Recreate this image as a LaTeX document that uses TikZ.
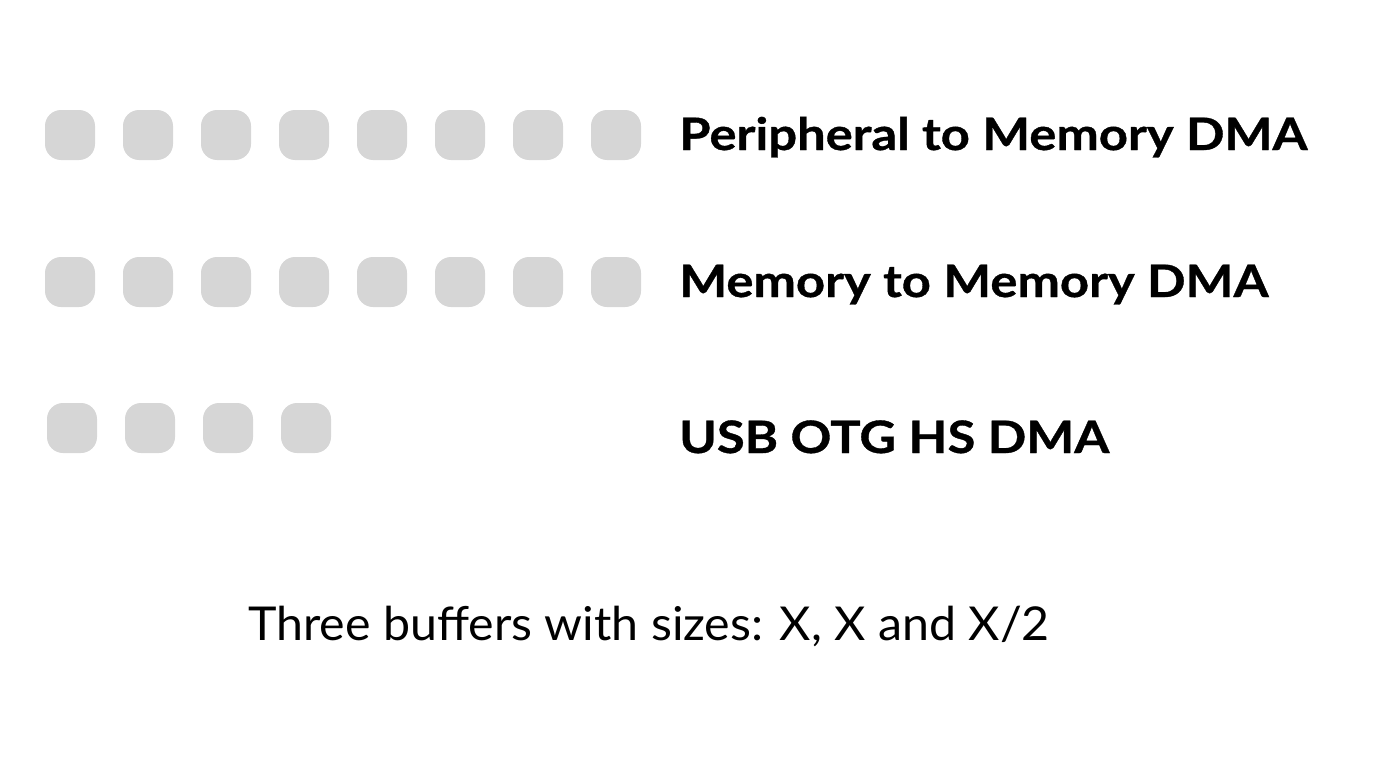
\documentclass[tikz,border=0pt]{standalone}
\usepackage{fontspec}
\setmainfont[FakeStretch=1.035]{Lato}
\newfontfamily\labelfont[FakeStretch=1.135,BoldFeatures={FakeBold=0.8}]{Lato}
\definecolor{cellgray}{HTML}{D6D6D6}
\begin{document}
\begin{tikzpicture}[x=0.75pt,y=-0.75pt,
  cell/.style={fill=cellgray,draw=none,rounded corners=12pt,minimum width=37.5pt,minimum height=37.5pt,inner sep=0pt},
  dmalabel/.style={anchor=base west,inner sep=0pt,font=\labelfont\bfseries\fontsize{33.5pt}{36pt}\selectfont},
  caption/.style={anchor=base west,inner sep=0pt,font=\fontsize{35pt}{40pt}\selectfont}]
\useasboundingbox (0,0) rectangle (1386,778);
\foreach \i in {0,...,7} {
  \node[cell] (a\i) at (70+78*\i,135) {};
  \node[cell] (b\i) at (70+78*\i,282) {};
}
\foreach \i in {0,...,3} {
  \node[cell] (c\i) at (72+78*\i,428) {};
}
\node[dmalabel] (l1) at (679,150) {Peripheral to Memory DMA};
\node[dmalabel] (l2) at (679,297) {Memory to Memory DMA};
\node[dmalabel] (l3) at (679,453) {USB OTG HS DMA};
\node[caption] (cap) at (248,640) {Three buffers with sizes: X, X and X/2};
\end{tikzpicture}
\end{document}
